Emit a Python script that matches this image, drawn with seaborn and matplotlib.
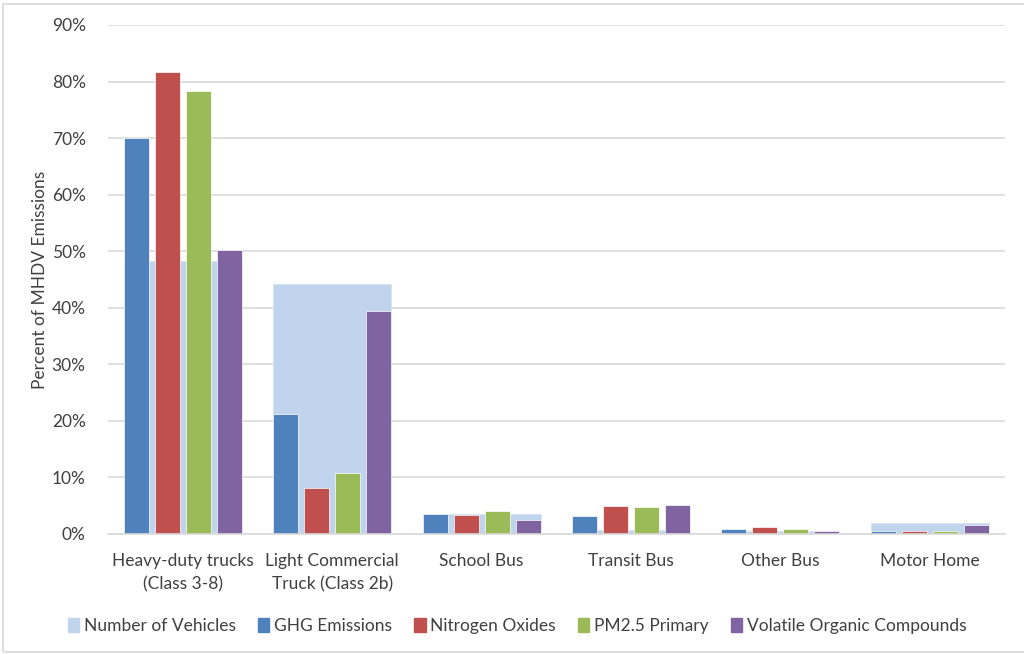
import numpy as np
import pandas as pd
import seaborn as sns
import matplotlib.pyplot as plt
from matplotlib.patches import Patch, Rectangle
from matplotlib.ticker import PercentFormatter

# data (percent of MHDV emissions)
categories = ['Heavy-duty trucks\n(Class 3-8)', 'Light Commercial\nTruck (Class 2b)',
              'School Bus', 'Transit Bus', 'Other Bus', 'Motor Home']
vehicles = [48.2, 44.2, 3.6, 0.7, 0.6, 1.9]
ghg = [70.1, 21.3, 3.6, 3.1, 0.95, 0.5]
nox = [81.6, 8.2, 3.3, 4.9, 1.2, 0.5]
pm25 = [78.4, 10.8, 4.1, 4.7, 0.95, 0.5]
voc = [50.3, 39.5, 2.5, 5.1, 0.5, 1.6]

series = ['GHG Emissions', 'Nitrogen Oxides', 'PM2.5 Primary', 'Volatile Organic Compounds']
colors = ['#4F81BD', '#C0504D', '#9BBB59', '#8064A2']
veh_color = '#C0D4EE'

sns.set_style('white')
plt.rcParams['font.family'] = ['Lato', 'DejaVu Sans']

df_veh = pd.DataFrame({'cat': categories, 'value': vehicles})
df = pd.DataFrame({
    'cat': categories * 4,
    'series': np.repeat(series, len(categories)),
    'value': ghg + nox + pm25 + voc,
})

fig = plt.figure(figsize=(10.24, 6.54), dpi=100)
ax = fig.add_axes([0.1055, 0.1835, 0.8755, 0.7783])

sns.barplot(data=df_veh, x='cat', y='value', color=veh_color, width=0.79,
            saturation=1, ax=ax, order=categories, edgecolor='#D6E2F3', linewidth=0.6)
sns.barplot(data=df, x='cat', y='value', hue='series', hue_order=series,
            palette=colors, saturation=1, width=0.83, gap=0.19, ax=ax,
            order=categories, edgecolor='white', linewidth=0.5, legend=False)

ax.set_ylim(0, 90)
ax.set_yticks(range(0, 91, 10))
ax.yaxis.set_major_formatter(PercentFormatter(decimals=0))
ax.yaxis.grid(True, color='#D9D9D9', linewidth=1.2)
ax.set_axisbelow(True)
for s in ['top', 'right', 'left']:
    ax.spines[s].set_visible(False)
ax.spines['bottom'].set_color('#D9D9D9')
ax.spines['bottom'].set_linewidth(1.2)
ax.tick_params(axis='both', length=0, colors='#404040', labelsize=12.5)
ax.tick_params(axis='y', pad=16)
ax.tick_params(axis='x', pad=14)
for lab in ax.get_xticklabels():
    lab.set_linespacing(1.5)
ax.set_xlabel('')
ax.set_ylabel('Percent of MHDV Emissions', fontsize=12.5, color='#404040', labelpad=3)

handles = [Patch(color=veh_color, label='Number of Vehicles')]
handles += [Patch(color=c, label=s) for c, s in zip(colors, series)]
fig.legend(handles=handles, loc='center', bbox_to_anchor=(0.505, 0.043), ncol=5,
           frameon=False, fontsize=12.5, handlelength=0.65, handleheight=0.9,
           handletextpad=0.25, columnspacing=1.3, labelcolor='#404040')

# light frame around the chart
fig.patches.append(Rectangle((0.003, 0.003), 1.1, 0.991, transform=fig.transFigure,
                             fill=False, edgecolor='#D9D9D9', linewidth=1.2))

fig.savefig('out.png', dpi=100)
